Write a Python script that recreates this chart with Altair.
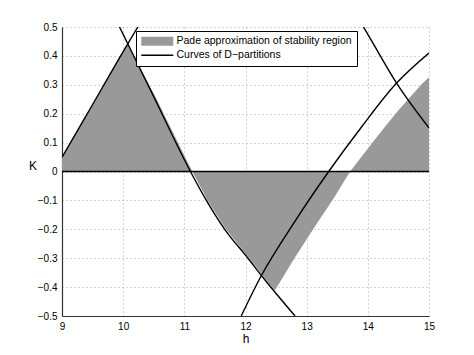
import altair as alt
import pandas as pd

PADE = "Pade approximation of stability region"
CURVES = "Curves of D−partitions"

# ---- curves of D-partitions ----
c1_h = [9.0, 9.4, 10.07, 10.24]
c1_k = [0.049, 0.195, 0.44, 0.5]
c2_h = [9.94, 10.5, 11.1, 11.36, 11.66, 12.04, 12.26, 12.81]
c2_k = [0.5, 0.259, 0.0, -0.1, -0.2, -0.3, -0.36, -0.5]
c3_h = [11.93, 12.26, 12.8, 13.36, 13.9, 14.47, 15.0]
c3_k = [-0.5, -0.36, -0.175, 0.0, 0.155, 0.306, 0.41]
c4_h = [13.93, 14.06, 14.47, 15.0]
c4_k = [0.5, 0.453, 0.306, 0.151]
c5_h = [9.0, 15.0]
c5_k = [0.0, 0.0]

# ---- Pade approximation of the stability region ----
reg_h = [9.0, 9.4, 10.07, 10.5, 11.13, 11.38, 11.68, 12.06, 12.28, 12.48,
         12.81, 13.13, 13.45, 13.71, 14.14, 14.5, 14.88, 15.0]
reg_lo = [0.0, 0.0, 0.0, 0.0, 0.0, -0.1, -0.2, -0.3, -0.36, -0.412,
          -0.297, -0.192, -0.09, 0.0, 0.0, 0.0, 0.0, 0.0]
reg_hi = [0.049, 0.195, 0.44, 0.27, 0.0, 0.0, 0.0, 0.0, 0.0, 0.0,
          0.0, 0.0, 0.0, 0.0, 0.118, 0.212, 0.302, 0.326]

x_ticks = [9, 10, 11, 12, 13, 14, 15]
y_ticks = [-0.5, -0.4, -0.3, -0.2, -0.1, 0.0, 0.1, 0.2, 0.3, 0.4, 0.5]

legend_series = [PADE, CURVES]
legend_colors = ["#999999", "#000000"]

rows = []
for cid, (hs, ks) in enumerate([(c1_h, c1_k), (c2_h, c2_k), (c3_h, c3_k), (c4_h, c4_k), (c5_h, c5_k)]):
    for h, k in zip(hs, ks):
        rows.append({"h": h, "K": k, "curve": cid})
line_df = pd.DataFrame(rows)
reg_df = pd.DataFrame({"h": reg_h, "lo": reg_lo, "hi": reg_hi})
# legend-only points, placed outside the (clipped) plot domain
leg_df = pd.DataFrame({"series": legend_series, "h": [100.0, 100.0], "K": [100.0, 100.0]})

FONT = "Liberation Sans"

xs = alt.Scale(domain=[9, 15], nice=False, zero=False)
ys = alt.Scale(domain=[-0.5, 0.5], nice=False, zero=False)

xaxis = alt.Axis(values=x_ticks, format="d", title="h", titleAngle=0, labelFlush=False,
                 labelOverlap=False, titleX=183.5, titleY=22, titleAlign="center",
                 titleBaseline="middle")
yaxis = alt.Axis(values=y_ticks, format=".1~f", title="K", titleAngle=0, labelFlush=False,
                 labelOverlap=False, titleX=-29.5, titleY=138, titleAlign="center",
                 titleBaseline="middle")

area = alt.Chart(reg_df).mark_area(opacity=1, interpolate="linear", clip=True, color="#999999").encode(
    x=alt.X("h:Q", scale=xs, axis=xaxis, title="h"),
    y=alt.Y("lo:Q", scale=ys, axis=yaxis, title="K"),
    y2="hi:Q",
)

lines = alt.Chart(line_df).mark_line(strokeWidth=1.4, clip=True, interpolate="monotone", color="#000000").encode(
    x=alt.X("h:Q", scale=xs, axis=xaxis, title="h"),
    y=alt.Y("K:Q", scale=ys, axis=yaxis, title="K"),
    detail="curve:N",
)

legend = alt.Legend(
    title=None, orient="none", legendX=74, legendY=4, direction="vertical",
    padding=5, strokeColor="black", fillColor="white", cornerRadius=0,
    symbolSize=100, symbolOpacity=1, symbolStrokeWidth=0, symbolOffset=11,
    labelFont=FONT, labelFontSize=10.5, labelColor="black",
    labelOffset=14, rowPadding=3, labelLimit=400,
)

leg = alt.Chart(leg_df).mark_point(filled=True, opacity=1, clip=True, size=1).encode(
    x=alt.X("h:Q", scale=xs, axis=xaxis, title="h"),
    y=alt.Y("K:Q", scale=ys, axis=yaxis, title="K"),
    color=alt.Color("series:N", scale=alt.Scale(domain=legend_series, range=legend_colors), legend=legend),
    shape=alt.Shape("series:N", scale=alt.Scale(domain=legend_series,
                    range=["M-3.2,-0.9H3.2V0.9H-3.2Z", "M-3.2,-0.14H3.2V0.14H-3.2Z"]), legend=legend),
)

chart = alt.layer(area, lines, leg).properties(
    width=367, height=289,
    autosize=alt.AutoSizeParams(type="none"),
    padding={"left": 54, "top": 19, "right": 37, "bottom": 31},
).configure(font=FONT).configure_view(strokeWidth=0).configure_axis(
    grid=True, gridColor="#aaaaaa", gridDash=[1, 3], gridWidth=1,
    domainColor="#333333", domainWidth=1.2, ticks=False,
    labelFont=FONT, labelFontSize=10, labelColor="black", labelPadding=5,
    titleFont=FONT, titleFontSize=12, titleFontWeight="normal", titleColor="black",
)

chart.save("out.html", embed_options={"renderer": "svg", "actions": False})
